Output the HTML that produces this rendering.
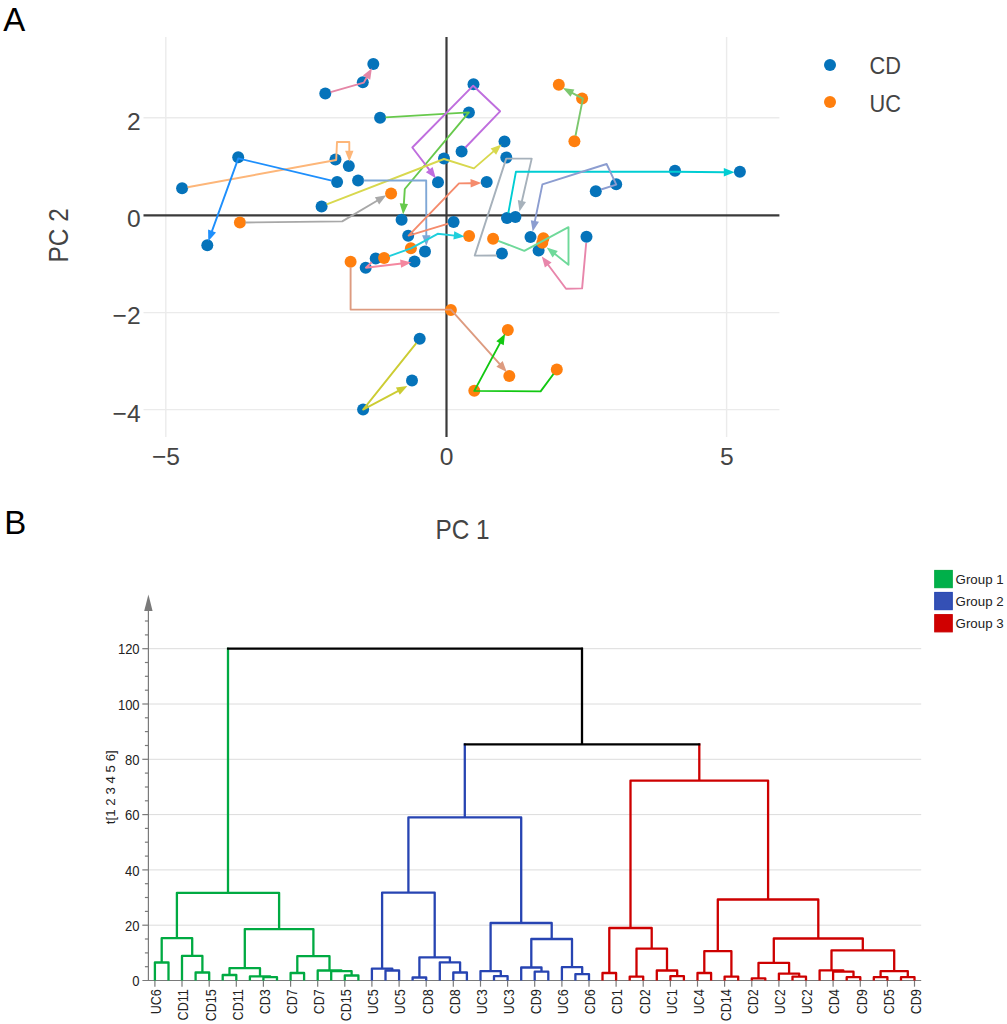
<!DOCTYPE html>
<html><head><meta charset="utf-8"><style>
html,body{margin:0;padding:0;background:#fff;}
body{width:1007px;height:1024px;overflow:hidden;font-family:"Liberation Sans",sans-serif;}
svg{display:block;}
</style></head><body>
<svg width="1007" height="1024" viewBox="0 0 1007 1024">
<rect width="1007" height="1024" fill="#fff"/>
<g stroke="#ebebeb" stroke-width="1.4" fill="none">
<line x1="165.8" y1="37.0" x2="165.8" y2="437.0"/>
<line x1="726.6" y1="37.0" x2="726.6" y2="437.0"/>
<line x1="143.5" y1="117.8" x2="779.4" y2="117.8"/>
<line x1="143.5" y1="312.6" x2="779.4" y2="312.6"/>
<line x1="143.5" y1="409.6" x2="779.4" y2="409.6"/>
</g>
<g stroke="#3a3a3a" stroke-width="2.2" fill="none">
<line x1="446.5" y1="37.0" x2="446.5" y2="437.0"/>
<line x1="143.5" y1="215.3" x2="779.4" y2="215.3"/>
</g>
<circle cx="182.1" cy="188.2" r="6.0" fill="#0573ba"/>
<circle cx="238.2" cy="157.3" r="6.0" fill="#0573ba"/>
<circle cx="207.3" cy="245.2" r="6.0" fill="#0573ba"/>
<circle cx="325.3" cy="93.4" r="6.0" fill="#0573ba"/>
<circle cx="362.8" cy="82.2" r="6.0" fill="#0573ba"/>
<circle cx="373.3" cy="64.0" r="6.0" fill="#0573ba"/>
<circle cx="380.1" cy="117.8" r="6.0" fill="#0573ba"/>
<circle cx="473.5" cy="84.2" r="6.0" fill="#0573ba"/>
<circle cx="468.9" cy="112.4" r="6.0" fill="#0573ba"/>
<circle cx="461.6" cy="151.5" r="6.0" fill="#0573ba"/>
<circle cx="504.5" cy="141.5" r="6.0" fill="#0573ba"/>
<circle cx="506.3" cy="157.5" r="6.0" fill="#0573ba"/>
<circle cx="335.5" cy="159.6" r="6.0" fill="#0573ba"/>
<circle cx="348.8" cy="166.0" r="6.0" fill="#0573ba"/>
<circle cx="337.1" cy="181.9" r="6.0" fill="#0573ba"/>
<circle cx="358.1" cy="180.5" r="6.0" fill="#0573ba"/>
<circle cx="444.0" cy="158.4" r="6.0" fill="#0573ba"/>
<circle cx="438.0" cy="182.3" r="6.0" fill="#0573ba"/>
<circle cx="486.7" cy="182.1" r="6.0" fill="#0573ba"/>
<circle cx="321.6" cy="206.4" r="6.0" fill="#0573ba"/>
<circle cx="401.6" cy="219.8" r="6.0" fill="#0573ba"/>
<circle cx="453.6" cy="222.0" r="6.0" fill="#0573ba"/>
<circle cx="507.0" cy="218.1" r="6.0" fill="#0573ba"/>
<circle cx="515.4" cy="217.0" r="6.0" fill="#0573ba"/>
<circle cx="408.2" cy="235.8" r="6.0" fill="#0573ba"/>
<circle cx="530.5" cy="237.1" r="6.0" fill="#0573ba"/>
<circle cx="425.0" cy="251.5" r="6.0" fill="#0573ba"/>
<circle cx="501.9" cy="253.4" r="6.0" fill="#0573ba"/>
<circle cx="538.6" cy="250.4" r="6.0" fill="#0573ba"/>
<circle cx="375.7" cy="258.6" r="6.0" fill="#0573ba"/>
<circle cx="365.7" cy="267.8" r="6.0" fill="#0573ba"/>
<circle cx="414.5" cy="261.4" r="6.0" fill="#0573ba"/>
<circle cx="675.0" cy="170.8" r="6.0" fill="#0573ba"/>
<circle cx="739.9" cy="171.7" r="6.0" fill="#0573ba"/>
<circle cx="616.2" cy="184.3" r="6.0" fill="#0573ba"/>
<circle cx="595.8" cy="191.2" r="6.0" fill="#0573ba"/>
<circle cx="586.5" cy="236.8" r="6.0" fill="#0573ba"/>
<circle cx="419.7" cy="338.8" r="6.0" fill="#0573ba"/>
<circle cx="412.0" cy="380.5" r="6.0" fill="#0573ba"/>
<circle cx="363.1" cy="409.6" r="6.0" fill="#0573ba"/>
<circle cx="239.9" cy="222.6" r="6.0" fill="#ff7f0e"/>
<circle cx="391.1" cy="193.5" r="6.0" fill="#ff7f0e"/>
<circle cx="469.1" cy="236.1" r="6.0" fill="#ff7f0e"/>
<circle cx="493.1" cy="238.8" r="6.0" fill="#ff7f0e"/>
<circle cx="410.9" cy="248.2" r="6.0" fill="#ff7f0e"/>
<circle cx="384.1" cy="257.9" r="6.0" fill="#ff7f0e"/>
<circle cx="350.6" cy="261.8" r="6.0" fill="#ff7f0e"/>
<circle cx="558.8" cy="84.8" r="6.0" fill="#ff7f0e"/>
<circle cx="582.1" cy="98.5" r="6.0" fill="#ff7f0e"/>
<circle cx="574.4" cy="141.2" r="6.0" fill="#ff7f0e"/>
<circle cx="543.4" cy="238.3" r="6.0" fill="#ff7f0e"/>
<circle cx="542.3" cy="242.8" r="6.0" fill="#ff7f0e"/>
<circle cx="450.9" cy="310.0" r="6.0" fill="#ff7f0e"/>
<circle cx="507.8" cy="330.1" r="6.0" fill="#ff7f0e"/>
<circle cx="509.3" cy="376.0" r="6.0" fill="#ff7f0e"/>
<circle cx="474.3" cy="390.7" r="6.0" fill="#ff7f0e"/>
<circle cx="556.8" cy="369.6" r="6.0" fill="#ff7f0e"/>
<polyline points="330.6,92.2 363.8,82.6 367.1,76.8" fill="none" stroke="#e586a6" stroke-width="1.9" stroke-linejoin="round"/>
<polygon points="371.9,68.3 370.2,79.8 362.9,75.6" fill="#e586a6"/>
<polyline points="385.4,117.4 468.9,112.4 404.8,189.0 403.8,204.6" fill="none" stroke="#67c94c" stroke-width="1.9" stroke-linejoin="round"/>
<polygon points="403.1,214.4 399.7,203.3 408.0,203.9" fill="#67c94c"/>
<polyline points="465.4,147.5 500.1,111.3 473.2,85.7 412.3,147.5 429.8,170.4" fill="none" stroke="#bf6ede" stroke-width="1.9" stroke-linejoin="round"/>
<polygon points="435.8,178.2 425.9,172.2 432.6,167.1" fill="#bf6ede"/>
<polyline points="326.7,204.4 444.0,159.0 473.9,168.4 494.1,150.9" fill="none" stroke="#d8d84e" stroke-width="1.9" stroke-linejoin="round"/>
<polygon points="501.5,144.5 496.1,154.7 490.6,148.4" fill="#d8d84e"/>
<polyline points="187.5,187.2 336.2,160.0 337.0,142.0 349.3,142.0 349.3,151.8" fill="none" stroke="#fdb679" stroke-width="1.9" stroke-linejoin="round"/>
<polygon points="349.3,161.6 345.1,150.8 353.5,150.8" fill="#fdb679"/>
<polyline points="331.7,180.6 238.3,158.4 211.7,231.9" fill="none" stroke="#1e8ffc" stroke-width="1.9" stroke-linejoin="round"/>
<polygon points="208.3,241.2 208.1,229.6 216.0,232.4" fill="#1e8ffc"/>
<polyline points="363.6,180.5 426.2,180.5 426.3,236.2" fill="none" stroke="#7fa7d6" stroke-width="1.9" stroke-linejoin="round"/>
<polygon points="426.3,246.0 422.1,235.2 430.5,235.2" fill="#7fa7d6"/>
<polyline points="245.4,222.5 342.2,221.4 377.9,200.3" fill="none" stroke="#a8a8a8" stroke-width="1.9" stroke-linejoin="round"/>
<polygon points="386.3,195.3 379.1,204.4 374.9,197.2" fill="#a8a8a8"/>
<polyline points="448.3,223.6 408.6,235.6 459.0,183.4 471.6,183.2" fill="none" stroke="#f58b6c" stroke-width="1.9" stroke-linejoin="round"/>
<polygon points="481.4,183.0 470.7,187.4 470.5,179.0" fill="#f58b6c"/>
<polyline points="389.3,256.1 410.9,248.4 437.7,233.8 454.8,235.6" fill="none" stroke="#1ecfdc" stroke-width="1.9" stroke-linejoin="round"/>
<polygon points="464.6,236.6 453.4,239.6 454.3,231.3" fill="#1ecfdc"/>
<polyline points="371.7,262.3 365.9,267.7 401.6,263.5" fill="none" stroke="#f4879f" stroke-width="1.9" stroke-linejoin="round"/>
<polygon points="411.3,262.4 401.1,267.8 400.1,259.5" fill="#f4879f"/>
<polyline points="497.0,255.5 474.7,255.6 506.2,158.6 531.7,158.6 521.7,202.0" fill="none" stroke="#a6b1bb" stroke-width="1.9" stroke-linejoin="round"/>
<polygon points="519.5,211.6 517.8,200.1 526.0,202.0" fill="#a6b1bb"/>
<polyline points="508.3,213.2 515.9,171.8 675.0,171.8 724.8,172.2" fill="none" stroke="#00cdd3" stroke-width="1.9" stroke-linejoin="round"/>
<polygon points="734.6,172.3 723.8,176.4 723.8,168.0" fill="#00cdd3"/>
<polyline points="601.0,189.5 616.3,184.6 606.6,164.0 542.4,184.4 534.7,222.0" fill="none" stroke="#8c9dd0" stroke-width="1.9" stroke-linejoin="round"/>
<polygon points="532.7,231.6 530.8,220.2 539.0,221.8" fill="#8c9dd0"/>
<polyline points="498.2,240.8 524.3,250.9 568.5,227.2 568.5,264.7 554.4,253.6" fill="none" stroke="#6fd99a" stroke-width="1.9" stroke-linejoin="round"/>
<polygon points="546.7,247.5 557.8,250.9 552.6,257.5" fill="#6fd99a"/>
<polyline points="586.2,243.0 582.1,288.4 566.0,288.8 547.7,264.2" fill="none" stroke="#e886ab" stroke-width="1.9" stroke-linejoin="round"/>
<polygon points="541.8,256.4 551.6,262.5 544.9,267.5" fill="#e886ab"/>
<polyline points="575.5,135.8 582.9,98.6 571.6,92.6" fill="none" stroke="#7cc76e" stroke-width="1.9" stroke-linejoin="round"/>
<polygon points="562.9,88.0 574.4,89.4 570.5,96.8" fill="#7cc76e"/>
<polyline points="350.6,267.3 350.6,309.6 450.9,309.6 500.2,364.7" fill="none" stroke="#dd9b80" stroke-width="1.9" stroke-linejoin="round"/>
<polygon points="506.7,372.0 496.4,366.7 502.7,361.1" fill="#dd9b80"/>
<polyline points="416.3,343.1 363.1,409.6 398.8,390.6" fill="none" stroke="#cccc33" stroke-width="1.9" stroke-linejoin="round"/>
<polygon points="407.4,386.0 399.8,394.8 395.9,387.4" fill="#cccc33"/>
<polyline points="553.5,374.0 540.6,391.4 474.3,390.9 500.4,342.4" fill="none" stroke="#12c812" stroke-width="1.9" stroke-linejoin="round"/>
<polygon points="505.1,333.8 503.7,345.3 496.3,341.3" fill="#12c812"/>
<g font-family="Liberation Sans, sans-serif" font-size="24.6" fill="#444444">
<text x="140.6" y="129.9" text-anchor="end">2</text>
<text x="140.6" y="227.3" text-anchor="end">0</text>
<text x="140.6" y="324.4" text-anchor="end">−2</text>
<text x="140.6" y="421.7" text-anchor="end">−4</text>
<text x="166" y="465.0" text-anchor="middle">−5</text>
<text x="446.5" y="465.0" text-anchor="middle">0</text>
<text x="726.8" y="465.0" text-anchor="middle">5</text>
</g>
<text font-family="Liberation Sans, sans-serif" font-size="28" fill="#444444" transform="translate(462.5,539) scale(0.87,1)" text-anchor="middle">PC 1</text>
<text font-family="Liberation Sans, sans-serif" font-size="28" fill="#444444" transform="translate(68.4,235.4) rotate(-90) scale(0.87,1)" text-anchor="middle">PC 2</text>
<circle cx="830" cy="64.9" r="6" fill="#0573ba"/>
<circle cx="830" cy="102.1" r="6" fill="#ff7f0e"/>
<g font-family="Liberation Sans, sans-serif" font-size="23.4" fill="#444444"><text transform="translate(869.6,74) scale(0.93,1)">CD</text><text transform="translate(869.6,111.6) scale(0.93,1)">UC</text></g>
<text font-family="Liberation Sans, sans-serif" font-size="33" fill="#000" x="3.2" y="30.9">A</text>
<text font-family="Liberation Sans, sans-serif" font-size="33" fill="#000" x="4.2" y="534.1">B</text>
<g stroke="#dcdcdc" stroke-width="1">
<line x1="148.5" y1="925.2" x2="921.2" y2="925.2"/>
<line x1="148.5" y1="869.9" x2="921.2" y2="869.9"/>
<line x1="148.5" y1="814.6" x2="921.2" y2="814.6"/>
<line x1="148.5" y1="759.3" x2="921.2" y2="759.3"/>
<line x1="148.5" y1="704.0" x2="921.2" y2="704.0"/>
<line x1="148.5" y1="648.7" x2="921.2" y2="648.7"/>
</g>
<g stroke="#7a7a7a" stroke-width="1.2">
<line x1="148.4" y1="980.5" x2="148.4" y2="606"/>
<line x1="142.4" y1="980.5" x2="921.2" y2="980.5"/>
<line x1="144.9" y1="966.7" x2="148.4" y2="966.7"/>
<line x1="144.9" y1="952.9" x2="148.4" y2="952.9"/>
<line x1="144.9" y1="939.0" x2="148.4" y2="939.0"/>
<line x1="142.3" y1="925.2" x2="148.4" y2="925.2"/>
<line x1="144.9" y1="911.4" x2="148.4" y2="911.4"/>
<line x1="144.9" y1="897.5" x2="148.4" y2="897.5"/>
<line x1="144.9" y1="883.7" x2="148.4" y2="883.7"/>
<line x1="142.3" y1="869.9" x2="148.4" y2="869.9"/>
<line x1="144.9" y1="856.1" x2="148.4" y2="856.1"/>
<line x1="144.9" y1="842.2" x2="148.4" y2="842.2"/>
<line x1="144.9" y1="828.4" x2="148.4" y2="828.4"/>
<line x1="142.3" y1="814.6" x2="148.4" y2="814.6"/>
<line x1="144.9" y1="800.8" x2="148.4" y2="800.8"/>
<line x1="144.9" y1="787.0" x2="148.4" y2="787.0"/>
<line x1="144.9" y1="773.1" x2="148.4" y2="773.1"/>
<line x1="142.3" y1="759.3" x2="148.4" y2="759.3"/>
<line x1="144.9" y1="745.5" x2="148.4" y2="745.5"/>
<line x1="144.9" y1="731.6" x2="148.4" y2="731.6"/>
<line x1="144.9" y1="717.8" x2="148.4" y2="717.8"/>
<line x1="142.3" y1="704.0" x2="148.4" y2="704.0"/>
<line x1="144.9" y1="690.2" x2="148.4" y2="690.2"/>
<line x1="144.9" y1="676.3" x2="148.4" y2="676.3"/>
<line x1="144.9" y1="662.5" x2="148.4" y2="662.5"/>
<line x1="142.3" y1="648.7" x2="148.4" y2="648.7"/>
<line x1="144.9" y1="634.9" x2="148.4" y2="634.9"/>
<line x1="144.9" y1="621.0" x2="148.4" y2="621.0"/>
<line x1="154.9" y1="980.5" x2="154.9" y2="986.7"/>
<line x1="182.0" y1="980.5" x2="182.0" y2="986.7"/>
<line x1="209.2" y1="980.5" x2="209.2" y2="986.7"/>
<line x1="236.3" y1="980.5" x2="236.3" y2="986.7"/>
<line x1="263.4" y1="980.5" x2="263.4" y2="986.7"/>
<line x1="290.6" y1="980.5" x2="290.6" y2="986.7"/>
<line x1="317.7" y1="980.5" x2="317.7" y2="986.7"/>
<line x1="344.8" y1="980.5" x2="344.8" y2="986.7"/>
<line x1="371.9" y1="980.5" x2="371.9" y2="986.7"/>
<line x1="399.1" y1="980.5" x2="399.1" y2="986.7"/>
<line x1="426.2" y1="980.5" x2="426.2" y2="986.7"/>
<line x1="453.3" y1="980.5" x2="453.3" y2="986.7"/>
<line x1="480.5" y1="980.5" x2="480.5" y2="986.7"/>
<line x1="507.6" y1="980.5" x2="507.6" y2="986.7"/>
<line x1="534.7" y1="980.5" x2="534.7" y2="986.7"/>
<line x1="561.9" y1="980.5" x2="561.9" y2="986.7"/>
<line x1="589.0" y1="980.5" x2="589.0" y2="986.7"/>
<line x1="616.1" y1="980.5" x2="616.1" y2="986.7"/>
<line x1="643.2" y1="980.5" x2="643.2" y2="986.7"/>
<line x1="670.4" y1="980.5" x2="670.4" y2="986.7"/>
<line x1="697.5" y1="980.5" x2="697.5" y2="986.7"/>
<line x1="724.6" y1="980.5" x2="724.6" y2="986.7"/>
<line x1="751.8" y1="980.5" x2="751.8" y2="986.7"/>
<line x1="778.9" y1="980.5" x2="778.9" y2="986.7"/>
<line x1="806.0" y1="980.5" x2="806.0" y2="986.7"/>
<line x1="833.1" y1="980.5" x2="833.1" y2="986.7"/>
<line x1="860.3" y1="980.5" x2="860.3" y2="986.7"/>
<line x1="887.4" y1="980.5" x2="887.4" y2="986.7"/>
<line x1="914.5" y1="980.5" x2="914.5" y2="986.7"/>
</g>
<polygon points="148.4,594.4 144.2,611 152.6,611" fill="#7a7a7a"/>
<g font-family="Liberation Sans, sans-serif" font-size="14" fill="#222">
<text transform="translate(139.6,986.1) scale(0.93,1)" text-anchor="end">0</text>
<text transform="translate(139.6,930.8) scale(0.93,1)" text-anchor="end">20</text>
<text transform="translate(139.6,875.5) scale(0.93,1)" text-anchor="end">40</text>
<text transform="translate(139.6,820.2) scale(0.93,1)" text-anchor="end">60</text>
<text transform="translate(139.6,764.9) scale(0.93,1)" text-anchor="end">80</text>
<text transform="translate(139.6,709.6) scale(0.93,1)" text-anchor="end">100</text>
<text transform="translate(139.6,654.3) scale(0.93,1)" text-anchor="end">120</text>
</g>
<text font-family="Liberation Sans, sans-serif" font-size="13.3" fill="#222" transform="translate(115.2,787.2) rotate(-90)" text-anchor="middle">t[1 2 3 4 5 6]</text>
<g font-family="Liberation Sans, sans-serif" font-size="14" fill="#222">
<text transform="translate(161.2,989.2) rotate(-90) scale(0.9,1)" text-anchor="end">UC6</text>
<text transform="translate(188.3,989.2) rotate(-90) scale(0.9,1)" text-anchor="end">CD11</text>
<text transform="translate(215.5,989.2) rotate(-90) scale(0.9,1)" text-anchor="end">CD15</text>
<text transform="translate(242.6,989.2) rotate(-90) scale(0.9,1)" text-anchor="end">CD11</text>
<text transform="translate(269.7,989.2) rotate(-90) scale(0.9,1)" text-anchor="end">CD3</text>
<text transform="translate(296.9,989.2) rotate(-90) scale(0.9,1)" text-anchor="end">CD7</text>
<text transform="translate(324.0,989.2) rotate(-90) scale(0.9,1)" text-anchor="end">CD7</text>
<text transform="translate(351.1,989.2) rotate(-90) scale(0.9,1)" text-anchor="end">CD15</text>
<text transform="translate(378.2,989.2) rotate(-90) scale(0.9,1)" text-anchor="end">UC5</text>
<text transform="translate(405.4,989.2) rotate(-90) scale(0.9,1)" text-anchor="end">UC5</text>
<text transform="translate(432.5,989.2) rotate(-90) scale(0.9,1)" text-anchor="end">CD8</text>
<text transform="translate(459.6,989.2) rotate(-90) scale(0.9,1)" text-anchor="end">CD8</text>
<text transform="translate(486.8,989.2) rotate(-90) scale(0.9,1)" text-anchor="end">UC3</text>
<text transform="translate(513.9,989.2) rotate(-90) scale(0.9,1)" text-anchor="end">UC3</text>
<text transform="translate(541.0,989.2) rotate(-90) scale(0.9,1)" text-anchor="end">CD9</text>
<text transform="translate(568.1,989.2) rotate(-90) scale(0.9,1)" text-anchor="end">UC6</text>
<text transform="translate(595.3,989.2) rotate(-90) scale(0.9,1)" text-anchor="end">CD6</text>
<text transform="translate(622.4,989.2) rotate(-90) scale(0.9,1)" text-anchor="end">CD1</text>
<text transform="translate(649.5,989.2) rotate(-90) scale(0.9,1)" text-anchor="end">CD2</text>
<text transform="translate(676.7,989.2) rotate(-90) scale(0.9,1)" text-anchor="end">UC1</text>
<text transform="translate(703.8,989.2) rotate(-90) scale(0.9,1)" text-anchor="end">UC4</text>
<text transform="translate(730.9,989.2) rotate(-90) scale(0.9,1)" text-anchor="end">CD14</text>
<text transform="translate(758.1,989.2) rotate(-90) scale(0.9,1)" text-anchor="end">CD2</text>
<text transform="translate(785.2,989.2) rotate(-90) scale(0.9,1)" text-anchor="end">UC2</text>
<text transform="translate(812.3,989.2) rotate(-90) scale(0.9,1)" text-anchor="end">UC2</text>
<text transform="translate(839.4,989.2) rotate(-90) scale(0.9,1)" text-anchor="end">CD4</text>
<text transform="translate(866.6,989.2) rotate(-90) scale(0.9,1)" text-anchor="end">CD9</text>
<text transform="translate(893.7,989.2) rotate(-90) scale(0.9,1)" text-anchor="end">CD5</text>
<text transform="translate(920.8,989.2) rotate(-90) scale(0.9,1)" text-anchor="end">CD9</text>
</g>
<path d="M154.9,980.5 V962.5 H168.5 V980.5" fill="none" stroke="#00aa42" stroke-width="2.3" stroke-linejoin="round"/>
<path d="M195.6,980.5 V972.5 H209.2 V980.5" fill="none" stroke="#00aa42" stroke-width="2.3" stroke-linejoin="round"/>
<path d="M182.0,980.5 V955.9 H202.4 V972.5" fill="none" stroke="#00aa42" stroke-width="2.3" stroke-linejoin="round"/>
<path d="M161.7,962.5 V938.2 H192.2 V955.9" fill="none" stroke="#00aa42" stroke-width="2.3" stroke-linejoin="round"/>
<path d="M222.7,980.5 V975.0 H236.3 V980.5" fill="none" stroke="#00aa42" stroke-width="2.3" stroke-linejoin="round"/>
<path d="M263.4,980.5 V977.2 H277.0 V980.5" fill="none" stroke="#00aa42" stroke-width="2.3" stroke-linejoin="round"/>
<path d="M249.9,980.5 V976.4 H270.2 V977.2" fill="none" stroke="#00aa42" stroke-width="2.3" stroke-linejoin="round"/>
<path d="M229.5,975.0 V968.1 H260.0 V976.4" fill="none" stroke="#00aa42" stroke-width="2.3" stroke-linejoin="round"/>
<path d="M290.6,980.5 V973.0 H304.1 V980.5" fill="none" stroke="#00aa42" stroke-width="2.3" stroke-linejoin="round"/>
<path d="M344.8,980.5 V975.5 H358.4 V980.5" fill="none" stroke="#00aa42" stroke-width="2.3" stroke-linejoin="round"/>
<path d="M331.2,980.5 V971.1 H351.6 V975.5" fill="none" stroke="#00aa42" stroke-width="2.3" stroke-linejoin="round"/>
<path d="M317.7,980.5 V970.5 H341.4 V971.1" fill="none" stroke="#00aa42" stroke-width="2.3" stroke-linejoin="round"/>
<path d="M297.3,973.0 V956.2 H329.5 V970.5" fill="none" stroke="#00aa42" stroke-width="2.3" stroke-linejoin="round"/>
<path d="M244.8,968.1 V929.1 H313.4 V956.2" fill="none" stroke="#00aa42" stroke-width="2.3" stroke-linejoin="round"/>
<path d="M176.9,938.2 V892.8 H279.1 V929.1" fill="none" stroke="#00aa42" stroke-width="2.3" stroke-linejoin="round"/>
<path d="M385.5,980.5 V970.5 H399.1 V980.5" fill="none" stroke="#2744b2" stroke-width="2.3" stroke-linejoin="round"/>
<path d="M371.9,980.5 V968.6 H392.3 V970.5" fill="none" stroke="#2744b2" stroke-width="2.3" stroke-linejoin="round"/>
<path d="M412.6,980.5 V977.5 H426.2 V980.5" fill="none" stroke="#2744b2" stroke-width="2.3" stroke-linejoin="round"/>
<path d="M453.3,980.5 V972.5 H466.9 V980.5" fill="none" stroke="#2744b2" stroke-width="2.3" stroke-linejoin="round"/>
<path d="M439.8,980.5 V962.3 H460.1 V972.5" fill="none" stroke="#2744b2" stroke-width="2.3" stroke-linejoin="round"/>
<path d="M419.4,977.5 V957.3 H449.9 V962.3" fill="none" stroke="#2744b2" stroke-width="2.3" stroke-linejoin="round"/>
<path d="M382.1,968.6 V892.6 H434.7 V957.3" fill="none" stroke="#2744b2" stroke-width="2.3" stroke-linejoin="round"/>
<path d="M494.0,980.5 V976.1 H507.6 V980.5" fill="none" stroke="#2744b2" stroke-width="2.3" stroke-linejoin="round"/>
<path d="M480.5,980.5 V971.1 H500.8 V976.1" fill="none" stroke="#2744b2" stroke-width="2.3" stroke-linejoin="round"/>
<path d="M534.7,980.5 V971.7 H548.3 V980.5" fill="none" stroke="#2744b2" stroke-width="2.3" stroke-linejoin="round"/>
<path d="M521.2,980.5 V967.5 H541.5 V971.7" fill="none" stroke="#2744b2" stroke-width="2.3" stroke-linejoin="round"/>
<path d="M575.4,980.5 V974.1 H589.0 V980.5" fill="none" stroke="#2744b2" stroke-width="2.3" stroke-linejoin="round"/>
<path d="M561.9,980.5 V967.2 H582.2 V974.1" fill="none" stroke="#2744b2" stroke-width="2.3" stroke-linejoin="round"/>
<path d="M531.3,967.5 V939.0 H572.0 V967.2" fill="none" stroke="#2744b2" stroke-width="2.3" stroke-linejoin="round"/>
<path d="M490.6,971.1 V923.0 H551.7 V939.0" fill="none" stroke="#2744b2" stroke-width="2.3" stroke-linejoin="round"/>
<path d="M408.4,892.6 V817.4 H521.2 V923.0" fill="none" stroke="#2744b2" stroke-width="2.3" stroke-linejoin="round"/>
<path d="M602.5,980.5 V973.0 H616.1 V980.5" fill="none" stroke="#cd0000" stroke-width="2.3" stroke-linejoin="round"/>
<path d="M629.7,980.5 V976.6 H643.2 V980.5" fill="none" stroke="#cd0000" stroke-width="2.3" stroke-linejoin="round"/>
<path d="M670.4,980.5 V976.1 H683.9 V980.5" fill="none" stroke="#cd0000" stroke-width="2.3" stroke-linejoin="round"/>
<path d="M656.8,980.5 V970.5 H677.2 V976.1" fill="none" stroke="#cd0000" stroke-width="2.3" stroke-linejoin="round"/>
<path d="M636.5,976.6 V948.7 H667.0 V970.5" fill="none" stroke="#cd0000" stroke-width="2.3" stroke-linejoin="round"/>
<path d="M609.3,973.0 V928.0 H651.7 V948.7" fill="none" stroke="#cd0000" stroke-width="2.3" stroke-linejoin="round"/>
<path d="M697.5,980.5 V973.0 H711.1 V980.5" fill="none" stroke="#cd0000" stroke-width="2.3" stroke-linejoin="round"/>
<path d="M724.6,980.5 V976.6 H738.2 V980.5" fill="none" stroke="#cd0000" stroke-width="2.3" stroke-linejoin="round"/>
<path d="M704.3,973.0 V951.2 H731.4 V976.6" fill="none" stroke="#cd0000" stroke-width="2.3" stroke-linejoin="round"/>
<path d="M751.8,980.5 V978.3 H765.3 V980.5" fill="none" stroke="#cd0000" stroke-width="2.3" stroke-linejoin="round"/>
<path d="M792.5,980.5 V976.6 H806.0 V980.5" fill="none" stroke="#cd0000" stroke-width="2.3" stroke-linejoin="round"/>
<path d="M778.9,980.5 V973.6 H799.2 V976.6" fill="none" stroke="#cd0000" stroke-width="2.3" stroke-linejoin="round"/>
<path d="M758.5,978.3 V962.8 H789.1 V973.6" fill="none" stroke="#cd0000" stroke-width="2.3" stroke-linejoin="round"/>
<path d="M846.7,980.5 V977.2 H860.3 V980.5" fill="none" stroke="#cd0000" stroke-width="2.3" stroke-linejoin="round"/>
<path d="M833.1,980.5 V971.7 H853.5 V977.2" fill="none" stroke="#cd0000" stroke-width="2.3" stroke-linejoin="round"/>
<path d="M819.6,980.5 V970.3 H843.3 V971.7" fill="none" stroke="#cd0000" stroke-width="2.3" stroke-linejoin="round"/>
<path d="M873.8,980.5 V977.2 H887.4 V980.5" fill="none" stroke="#cd0000" stroke-width="2.3" stroke-linejoin="round"/>
<path d="M901.0,980.5 V977.2 H914.5 V980.5" fill="none" stroke="#cd0000" stroke-width="2.3" stroke-linejoin="round"/>
<path d="M880.6,977.2 V971.1 H907.8 V977.2" fill="none" stroke="#cd0000" stroke-width="2.3" stroke-linejoin="round"/>
<path d="M831.5,970.3 V950.4 H894.2 V971.1" fill="none" stroke="#cd0000" stroke-width="2.3" stroke-linejoin="round"/>
<path d="M773.8,962.8 V938.5 H862.8 V950.4" fill="none" stroke="#cd0000" stroke-width="2.3" stroke-linejoin="round"/>
<path d="M717.8,951.2 V899.5 H818.3 V938.5" fill="none" stroke="#cd0000" stroke-width="2.3" stroke-linejoin="round"/>
<path d="M630.5,928.0 V780.6 H768.1 V899.5" fill="none" stroke="#cd0000" stroke-width="2.3" stroke-linejoin="round"/>
<path d="M464.8,817.4 V743.4" fill="none" stroke="#2744b2" stroke-width="2.3" stroke-linejoin="round"/>
<path d="M699.3,780.6 V743.4" fill="none" stroke="#cd0000" stroke-width="2.3" stroke-linejoin="round"/>
<path d="M463.8,744.4 H700.3" fill="none" stroke="#000000" stroke-width="2.3" stroke-linejoin="round"/>
<path d="M228.0,892.8 V647.7" fill="none" stroke="#00aa42" stroke-width="2.3" stroke-linejoin="round"/>
<path d="M582.0,744.4 V647.7" fill="none" stroke="#000000" stroke-width="2.3" stroke-linejoin="round"/>
<path d="M227.0,648.7 H583.0" fill="none" stroke="#000000" stroke-width="2.3" stroke-linejoin="round"/>
<rect x="934.7" y="570.4" width="17.6" height="17.3" fill="#00b04a" stroke="#00a840" stroke-width="1"/>
<rect x="934.7" y="592.4" width="17.6" height="17.3" fill="#3450b5" stroke="#2242b0" stroke-width="1"/>
<rect x="934.7" y="614.6" width="17.6" height="17.3" fill="#d00000" stroke="#c80000" stroke-width="1"/>
<g font-family="Liberation Sans, sans-serif" font-size="13.3" fill="#222"><text x="955.6" y="583.9">Group 1</text><text x="955.6" y="605.9">Group 2</text><text x="955.6" y="628.1">Group 3</text></g>
</svg>
</body></html>
